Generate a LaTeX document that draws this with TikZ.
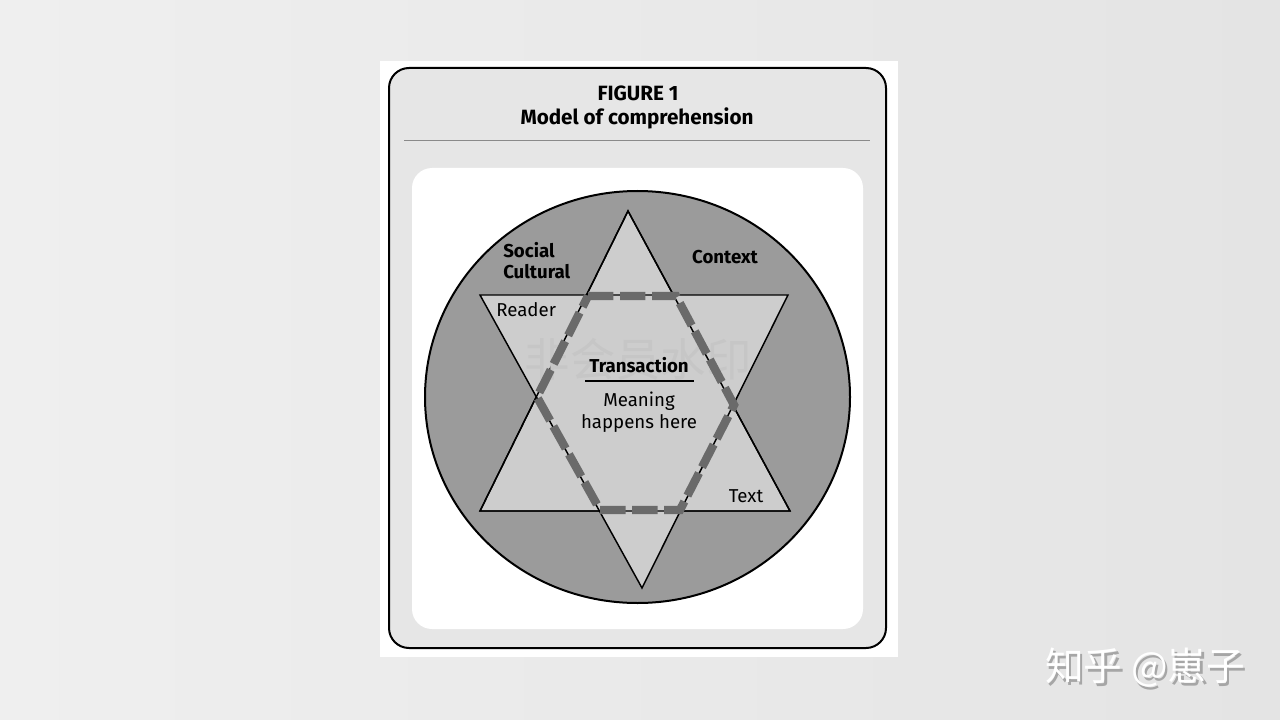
\documentclass[tikz,border=0pt]{standalone}
\usepackage{fontspec}
\setmainfont{Fira Sans}
\newfontfamily\cjkfont{Noto Sans CJK SC}
\definecolor{bgL}{HTML}{EFEFEF}
\definecolor{bgR}{HTML}{E4E4E4}
\definecolor{panel}{HTML}{E6E6E6}
\definecolor{ringgray}{HTML}{9B9B9B}
\definecolor{trigray}{HTML}{CDCDCD}
\definecolor{hexgray}{HTML}{6A6A6A}
\definecolor{rulegray}{HTML}{8A8A8A}
\definecolor{wmgray}{HTML}{C6C6C6}
\begin{document}
\begin{tikzpicture}[x=0.75pt,y=-0.75pt,
  lbl/.style={inner sep=0pt,font=\fontsize{14}{16}\selectfont},
  blbl/.style={inner sep=0pt,font=\fontsize{14}{16}\selectfont\bfseries},
  tri/.style={draw=black,fill=trigray,line width=1.1pt,line join=miter},
  hexline/.style={draw=hexgray,line width=6.3pt,dash pattern=on 19pt off 5pt}]
\useasboundingbox (0,0) rectangle (1280,720);
\shade[left color=bgL,right color=bgR] (0,0) rectangle (1280,720);
% outer white sheet
\fill[white] (380,61) rectangle (898,657);
% panel
\draw[fill=panel,line width=1.5pt,rounded corners=15] (389,68) rectangle (886,648);
\node[blbl,font=\fontsize{15.5}{17}\selectfont\bfseries] (fig) at (638,93) {FIGURE 1};
\node[blbl,font=\fontsize{15.5}{17}\selectfont\bfseries] (title) at (637,118) {Model of comprehension};
\draw[rulegray,line width=0.7pt] (404,140) -- (870,140);
% inner white card
\fill[white,rounded corners=15] (412,168) rectangle (863,629);
% circle
\draw[fill=ringgray,line width=1.5pt] (637.5,397) ellipse [x radius=212.5,y radius=206];
% triangles
\path[tri] (628,211) -- (480,511) -- (790,511) -- cycle;
\path[tri] (480,295) -- (788,295) -- (642,588) -- cycle;
% redraw edges of up triangle over down triangle fill
\draw[line width=1.1pt] (628,211) -- (480,511) -- (790,511) -- cycle;
% watermark
\node[inner sep=0pt,text=wmgray,font=\cjkfont\fontsize{34}{36}\selectfont] (wm) at (638,359) {非会员水印};
% hexagon
\draw[hexline] (588,296) -- (676,296) -- (734,405) -- (680,510) -- (600,510) -- (537,397) -- cycle;
% labels
\node[blbl,anchor=west] (social) at (503,250) {Social};
\node[blbl,anchor=west] (cult) at (503,272) {Cultural};
\node[blbl] (context) at (725,257) {Context};
\node[lbl,anchor=west] (reader) at (496,310) {Reader};
\node[blbl] (trans) at (639,365) {Transaction};
\draw[line width=0.8pt] (585,381) -- (694,381);
\node[lbl] (mean) at (639,401) {Meaning};
\node[lbl] (happ) at (639,424) {happens here};
\node[lbl] (text) at (746,496) {Text};
% zhihu watermark
\node[inner sep=0pt,text=gray!70,font=\cjkfont\fontsize{29}{31}\selectfont] (zhs) at (1147.5,670.5) {知乎 @崽子};
\node[inner sep=0pt,text=white,font=\cjkfont\fontsize{29}{31}\selectfont] (zh) at (1145,668) {知乎 @崽子};
\end{tikzpicture}
\end{document}
